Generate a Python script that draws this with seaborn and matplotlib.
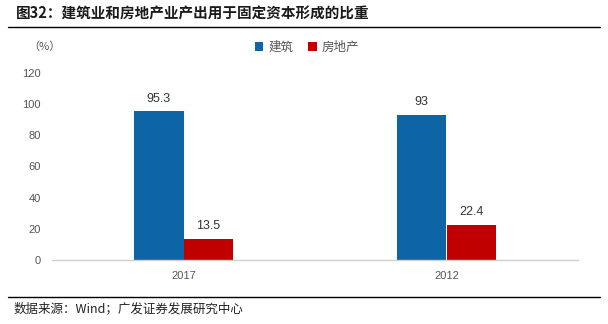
import matplotlib
matplotlib.use("Agg")
import matplotlib.pyplot as plt
from matplotlib.lines import Line2D
from matplotlib.patches import Patch
import seaborn as sns
import pandas as pd

years = ["2017", "2012"]
series_names = ["建筑", "房地产"]
construction = [95.3, 93]
real_estate = [13.5, 22.4]
y_ticks = [0, 20, 40, 60, 80, 100, 120]

colors = ["#0E65A5", "#C00000"]

df = pd.DataFrame({
    "year": years * 2,
    "series": [series_names[0]] * 2 + [series_names[1]] * 2,
    "value": construction + real_estate,
})

sns.set_theme(style="white")
plt.rcParams["font.family"] = ["Noto Sans CJK SC", "DejaVu Sans"]

fig = plt.figure(figsize=(6.08, 3.24), dpi=100)
ax = fig.add_axes([52 / 608, 1 - 260 / 324, 526 / 608, (260 - 73) / 324])

sns.barplot(data=df, x="year", y="value", hue="series", order=years,
            hue_order=series_names, palette=colors, width=0.38, gap=0,
            saturation=1, dodge=True, legend=False, ax=ax, linewidth=0)

for cont in ax.containers:
    ax.bar_label(cont, labels=[f"{v:g}" for v in cont.datavalues], padding=5,
                 fontsize=9, color="#333333", family=["Liberation Sans", "DejaVu Sans"])

ax.set_xlim(-0.5, 1.5)
ax.set_ylim(0, 120)
ax.set_yticks(y_ticks)
ax.set_yticklabels([str(t) for t in y_ticks])
ax.set_xlabel("")
ax.set_ylabel("")
for s in ["left", "right", "top"]:
    ax.spines[s].set_visible(False)
ax.spines["bottom"].set_color("#D0D0D0")
ax.spines["bottom"].set_linewidth(1)
ax.tick_params(axis="both", length=0, labelsize=8, colors="#555555", pad=8)
for lab in ax.get_xticklabels() + ax.get_yticklabels():
    lab.set_family(["Liberation Sans", "DejaVu Sans"])

fig.text(44 / 608, 1 - 47 / 324, "（%）", fontsize=8, color="#555555",
         ha="center", va="center")

handles = [Patch(facecolor=c, edgecolor="none") for c in colors]
fig.legend(handles, series_names, loc="center", bbox_to_anchor=(307 / 608, 1 - 47 / 324),
           ncol=2, frameon=False, fontsize=9, handlelength=0.7, handleheight=0.7,
           handletextpad=0.4, columnspacing=1.2, labelcolor="#555555")

fig.text(16 / 608, 1 - 14 / 324, "图32：建筑业和房地产业产出用于固定资本形成的比重",
         fontsize=10.5, fontweight="bold", color="#1a1a1a", ha="left", va="center")
fig.add_artist(Line2D([8 / 608, 600 / 608], [1 - 27 / 324] * 2, color="black", lw=1))
fig.add_artist(Line2D([8 / 608, 600 / 608], [1 - 297 / 324] * 2, color="black", lw=1))
fig.text(14 / 608, 1 - 309 / 324, "数据来源：Wind；广发证券发展研究中心",
         fontsize=9, color="#222222", ha="left", va="center")

fig.savefig("out.png", dpi=100)
